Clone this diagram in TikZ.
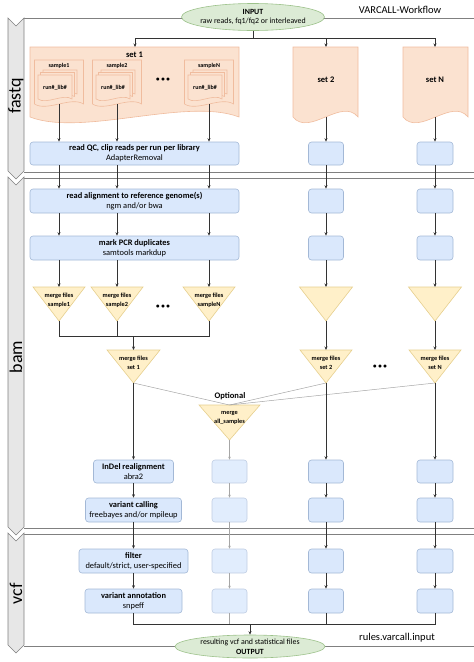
\documentclass[tikz,border=0pt]{standalone}
\usepackage{fontspec}
\setmainfont{Carlito}
\usetikzlibrary{arrows.meta,calc,positioning,shapes.geometric}

\definecolor{procfill}{HTML}{DAE8FC}
\definecolor{procline}{HTML}{A3B8D6}
\definecolor{docfill}{HTML}{FBE2D0}
\definecolor{docline}{HTML}{F0BC9E}
\definecolor{trifill}{HTML}{FFF0C9}
\definecolor{triline}{HTML}{E6CF8E}
\definecolor{iofill}{HTML}{DCEBD5}
\definecolor{ioline}{HTML}{9DC28B}
\definecolor{barfill}{HTML}{E7E7E7}
\definecolor{barline}{HTML}{808080}

\tikzset{procbox/.style={rounded corners=3pt,fill=procfill,draw=procline,line width=0.6pt,align=center,inner sep=0pt,font=\fontsize{8.4}{10}\selectfont},
optbox/.style={procbox,fill=procfill!80,draw=procline!70},
iostate/.style={ellipse,fill=iofill,draw=ioline,line width=0.6pt,inner sep=0pt},
iotext/.style={align=center,inner sep=0pt,font=\fontsize{7.9}{9.8}\selectfont},
docshape/.style={fill=docfill,draw=docline,line width=0.6pt},
trishape/.style={fill=trifill,draw=triline,line width=0.6pt},
tritext/.style={align=center,inner sep=0pt,font=\bfseries\fontsize{6.3}{9}\selectfont},
setlabel/.style={font=\bfseries\fontsize{8.5}{8.5}\selectfont,inner sep=0pt},
smalllabel/.style={font=\bfseries\fontsize{6}{6}\selectfont,inner sep=0pt},
flow/.style={draw=black!80,line width=0.7pt},
arr/.style={flow,-{Stealth[length=3.5pt,width=3pt]}},
optflow/.style={draw=black!35,line width=0.5pt},
optarr/.style={optflow,-{Stealth[length=3pt,width=2.5pt]}},
frame/.style={draw=barline,line width=0.7pt},
sidebar/.style={fill=barfill,draw=barline,line width=0.6pt},
sectlabel/.style={rotate=90,font=\fontsize{18}{18}\selectfont},
dots/.style={font=\bfseries\fontsize{7}{7}\selectfont}}

% document with a wavy lower edge: style, left, top, width, height, wave
\newcommand{\wavedoc}[6]{%
  \filldraw[#1] ({#2},{#3}) -- ++({#4},0) -- ++(0,{#5})
    .. controls +({-0.25*(#4)},{-(#6)}) and ({#2+0.25*(#4)},{#3+#5+#6}) .. ({#2},{#3+#5}) -- cycle;}

% merge triangle: name, centre x, top y, width, height, text
\newcommand{\mergetri}[6]{%
  \filldraw[trishape] ({#2-0.5*(#4)},{#3}) -- ++({#4},0) -- ({#2},{#3+#5}) -- cycle;
  \coordinate (#1-top) at ({#2},{#3});
  \coordinate (#1-tip) at ({#2},{#3+#5});
  \node[tritext] (#1) at ({#2},{#3+0.38*(#5)}) {#6};}

\begin{document}
\begin{tikzpicture}[x=1pt,y=-1pt]
\useasboundingbox (0,0) rectangle (474,662);

% Sections
\draw[frame] (24,18) -- (474,18);
\draw[frame] (24,172) -- (474,172);
\draw[frame] (24,178) -- (474,178);
\draw[frame] (24,528) -- (474,528);
\draw[frame] (24,534) -- (474,534);
\draw[frame] (24,646) -- (474,646);
\foreach \ya/\yb in {18/171,177/527,533/645}
  \filldraw[sidebar] (8,\ya) -- (16,{\ya+8}) -- (24,\ya) -- (24,\yb) -- (16,{\yb+8}) -- (8,\yb) -- cycle;
\node[sectlabel] (fastqlab) at (16,96) {fastq};
\node[sectlabel] (bamlab) at (16,357) {bam};
\node[sectlabel] (vcflab) at (16,594) {vcf};
\node[font=\fontsize{10.5}{10.5}\selectfont] (title) at (400,10) {VARCALL-Workflow};
\node[font=\fontsize{10.5}{10.5}\selectfont] (rules) at (397,638) {rules.varcall.input};

% Input
\node[iostate,minimum width=143,minimum height=27,label={[iotext]center:{\textbf{INPUT}\\raw reads, fq1/fq2 or interleaved}}] (input) at (253,17) {};
\coordinate (split) at (253,38);
\draw[flow] (input) -- (split);

% Sets
\wavedoc{docshape}{30}{47}{209}{70}{20}
\wavedoc{docshape}{293}{47}{65}{70}{20}
\wavedoc{docshape}{403}{47}{65}{70}{20}
\coordinate (set1-top) at (135,47);
\coordinate (set2-top) at (326,47);
\coordinate (setN-top) at (435,47);
\coordinate (set2-bot) at (326,117);
\coordinate (setN-bot) at (435,117);
\draw[arr] (split) -| (set1-top);
\draw[arr] (split) -| (setN-top);
\draw[arr] (split -| set2-top) -- (set2-top);
\node[setlabel] (set1) at (134.5,55) {set 1};
\node[setlabel] (set2) at (326,80) {set 2};
\node[setlabel] (setN) at (435,80) {set N};

% Samples
\foreach \n/\cx in {1/59,2/117,N/209}{
  \wavedoc{docshape}{\cx-24.5}{60}{49}{44}{8}
  \node[smalllabel] (sample\n) at (\cx,66) {sample\n};
  \foreach \d in {5,2.5,0}
    \wavedoc{docshape}{\cx-21+\d}{75-\d}{34}{24}{6}
  \node[smalllabel] (run\n) at ({\cx-4},88) {run\#\_lib\#};
  \coordinate (sample\n-bot) at (\cx,104);
}
\node[dots] (sampledots) at (163,80) {\textbullet\ \textbullet\ \textbullet};

% Read QC
\node[procbox,minimum width=209,minimum height=23] (qc) at (134.5,153.5) {\textbf{read QC, clip reads per run per library}\\AdapterRemoval};
\node[procbox,minimum width=35,minimum height=23] (qc2) at (326,153.5) {};
\node[procbox,minimum width=36,minimum height=23] (qcN) at (435,153.5) {};

% Alignment and duplicates
\node[procbox,minimum width=209,minimum height=24] (align) at (134.5,201) {\textbf{read alignment to reference genome(s)}\\ngm and/or bwa};
\node[procbox,minimum width=35,minimum height=24] (align2) at (326,201) {};
\node[procbox,minimum width=36,minimum height=24] (alignN) at (435,201) {};
\node[procbox,minimum width=209,minimum height=24] (markdup) at (134.5,248) {\textbf{mark PCR duplicates}\\samtools markdup};
\node[procbox,minimum width=35,minimum height=24] (markdup2) at (326,248) {};
\node[procbox,minimum width=36,minimum height=24] (markdupN) at (435,248) {};

\foreach \n in {1,2,N}{
  \draw[arr] (sample\n-bot) -- (sample\n-bot |- qc.north);
  \draw[arr] (qc.south -| sample\n-bot) -- (align.north -| sample\n-bot);
  \draw[arr] (align.south -| sample\n-bot) -- (markdup.north -| sample\n-bot);
}
\foreach \c in {2,N}{
  \draw[arr] (set\c-bot) -- (qc\c);
  \draw[arr] (qc\c) -- (align\c);
  \draw[arr] (align\c) -- (markdup\c);
}

% Merge per sample
\foreach \n/\cx in {1/59,2/117,N/209}{
  \mergetri{msample\n}{\cx}{287}{52}{34}{merge files\\sample\n}
  \draw[arr] (markdup.south -| msample\n-top) -- (msample\n-top);
}
\node[dots] (mergedots) at (163,307) {\textbullet\ \textbullet\ \textbullet};
\mergetri{mbig2}{326}{287}{53}{34}{}
\mergetri{mbigN}{435}{287}{53}{34}{}
\draw[arr] (markdup2) -- (mbig2-top);
\draw[arr] (markdupN) -- (mbigN-top);

% Merge per set
\coordinate (join1) at (133.5,336);
\draw[flow] (msample1-tip) |- (msampleN-tip |- join1) -- (msampleN-tip);
\draw[flow] (msample2-tip) -- (msample2-tip |- join1);
\mergetri{mset1}{133.5}{350}{53}{33}{merge files\\set 1}
\mergetri{mset2}{326}{350}{52}{33}{merge files\\set 2}
\mergetri{msetN}{435}{350}{52}{33}{merge files\\set N}
\draw[arr] (join1) -- (mset1-top);
\draw[arr] (mbig2-tip) -- (mset2-top);
\draw[arr] (mbigN-tip) -- (msetN-top);
\node[dots] (setdots) at (380,367) {\textbullet\ \textbullet\ \textbullet};

% Optional merge of all samples
\node[font=\bfseries\fontsize{8.5}{10}\selectfont] (optional) at (230,396) {Optional};
\mergetri{mall}{229.5}{405}{61}{35}{merge\\all\_samples}
\foreach \c in {1,2,N} \draw[optflow] (mset\c-tip) -- (mall-top);

% Variant calling
\node[procbox,minimum width=80,minimum height=23] (indel) at (133.5,471.5) {\textbf{InDel realignment}\\abra2};
\node[procbox,minimum width=96,minimum height=24] (calling) at (133.5,510) {\textbf{variant calling}\\freebayes and/or mpileup};
\node[procbox,minimum width=109,minimum height=24] (filter) at (133.5,561) {\textbf{filter}\\default/strict, user-specified};
\node[procbox,minimum width=97,minimum height=24] (annot) at (133.5,601) {\textbf{variant annotation}\\snpeff};
\foreach \c/\cx/\w/\s in {all/229.5/35/optbox,2/326/35/procbox,N/435/36/procbox}{
  \node[\s,minimum width=\w,minimum height=23] (indel\c) at (\cx,471.5) {};
  \node[\s,minimum width=\w,minimum height=24] (calling\c) at (\cx,510) {};
  \node[\s,minimum width=\w,minimum height=24] (filter\c) at (\cx,561) {};
  \node[\s,minimum width=\w,minimum height=24] (annot\c) at (\cx,601) {};
}
\draw[arr] (mset1-tip) -- (indel);
\draw[arr] (indel) -- (calling);
\draw[arr] (calling) -- (filter);
\draw[arr] (filter) -- (annot);
\foreach \c in {2,N}{
  \draw[arr] (mset\c-tip) -- (indel\c);
  \draw[arr] (indel\c) -- (calling\c);
  \draw[arr] (calling\c) -- (filter\c);
  \draw[arr] (filter\c) -- (annot\c);
}
\draw[optarr] (mall-tip) -- (indelall);
\draw[optarr] (indelall) -- (callingall);
\draw[optarr] (callingall) -- (filterall);
\draw[optarr] (filterall) -- (annotall);

% Output
\node[iostate,minimum width=150,minimum height=23,label={[iotext]center:{resulting vcf and statistical files\\\textbf{OUTPUT}}}] (output) at (250,646.5) {};
\coordinate (join2) at (250,624);
\draw[flow] (annot) |- (annotN |- join2) -- (annotN);
\draw[flow] (annot2) -- (annot2 |- join2);
\draw[optflow] (annotall) -- (annotall |- join2);
\draw[arr] (join2) -- (output);

\end{tikzpicture}
\end{document}
